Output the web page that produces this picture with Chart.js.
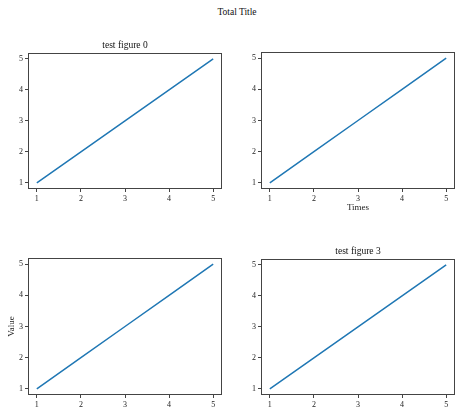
<!DOCTYPE html>
<html>
<head>
<meta charset="utf-8">
<script src="https://cdn.jsdelivr.net/npm/chart.js@4"></script>
<style>
  body { margin: 0; background: #fff; width: 474px; height: 415px; overflow: hidden; position: relative; font-family: "Liberation Serif", serif; }
  canvas { position: absolute; }
  #suptitle { position: absolute; left: 0; top: 6px; width: 474px; text-align: center; font-size: 9.5px; line-height: 12px; color: #111; }
</style>
</head>
<body>
<div id="suptitle"></div>
<script>
const suptitle = "Total Title";
const xValues = [1, 2, 3, 4, 5];
const yValues = [1, 2, 3, 4, 5];
const tickValues = [1, 2, 3, 4, 5];
const axisMin = 0.8;
const axisMax = 5.2;
const panelTitles = ["test figure 0", "", "", "test figure 3"];
const xAxisTitles = ["", "Times", "", ""];
const yAxisTitles = ["", "", "Value", ""];

// panel boxes (plot area) in page px
const boxLefts = [28, 261, 28, 261];
const boxTops = [52, 52, 258, 258];
const BOX_W = 194, BOX_H = 137;
const Y_AXIS_W = 28, X_AXIS_H = 24, TOP_SPACE = 20, RIGHT_PAD = 6;

const FRAME = "#444";
const TEXT = "#222";

document.getElementById("suptitle").textContent = suptitle;

const framePlugin = {
  id: "frame",
  afterDraw(chart) {
    const { ctx, chartArea: a } = chart;
    ctx.save();
    ctx.strokeStyle = FRAME;
    ctx.lineWidth = 1;
    ctx.strokeRect(Math.round(a.left) + 0.5, Math.round(a.top) + 0.5,
      Math.round(a.right - a.left) - 1, Math.round(a.bottom - a.top) - 1);
    ctx.restore();
  }
};

function axis(titleText, isX) {
  return {
    type: "linear",
    min: axisMin,
    max: axisMax,
    afterBuildTicks: s => { s.ticks = tickValues.map(v => ({ value: v })); },
    afterFit: s => { if (isX) s.height = X_AXIS_H; else s.width = Y_AXIS_W; },
    border: { display: false },
    grid: { drawOnChartArea: false, drawTicks: true, tickLength: 3, color: FRAME, lineWidth: 1 },
    ticks: { color: TEXT, padding: 2, maxRotation: 0, autoSkip: false, font: { family: "Liberation Serif", size: 8 } },
    title: {
      display: titleText !== "",
      text: titleText,
      color: TEXT,
      padding: isX ? { top: 0, bottom: 0 } : { top: 6, bottom: 0 },
      font: { family: "Liberation Serif", size: 9, lineHeight: 1.2 }
    }
  };
}

function makePanel(i) {
  const canvas = document.createElement("canvas");
  const w = Y_AXIS_W + BOX_W + RIGHT_PAD;
  const h = TOP_SPACE + BOX_H + X_AXIS_H;
  canvas.width = w;
  canvas.height = h;
  canvas.style.left = (boxLefts[i] - Y_AXIS_W) + "px";
  canvas.style.top = (boxTops[i] - TOP_SPACE) + "px";
  canvas.style.width = w + "px";
  canvas.style.height = h + "px";
  document.body.appendChild(canvas);

  const hasTitle = panelTitles[i] !== "";
  new Chart(canvas.getContext("2d"), {
    type: "line",
    data: {
      datasets: [{
        data: xValues.map((x, k) => ({ x, y: yValues[k] })),
        borderColor: "#1f77b4",
        borderWidth: 1.5,
        pointRadius: 0,
        tension: 0,
        fill: false
      }]
    },
    options: {
      responsive: false,
      animation: false,
      devicePixelRatio: 1,
      layout: { padding: { top: hasTitle ? 0 : TOP_SPACE, right: RIGHT_PAD, left: 0, bottom: 0 } },
      plugins: {
        legend: { display: false },
        tooltip: { enabled: false },
        title: {
          display: hasTitle,
          text: panelTitles[i],
          fullSize: false,
          color: "#111",
          padding: { top: 8, bottom: 1.2 },
          font: { family: "Liberation Serif", size: 9.5, weight: "normal", lineHeight: 1.2 }
        }
      },
      scales: { x: axis(xAxisTitles[i], true), y: axis(yAxisTitles[i], false) }
    },
    plugins: [framePlugin]
  });
}

[0, 1, 2, 3].forEach(makePanel);
</script>
</body>
</html>
